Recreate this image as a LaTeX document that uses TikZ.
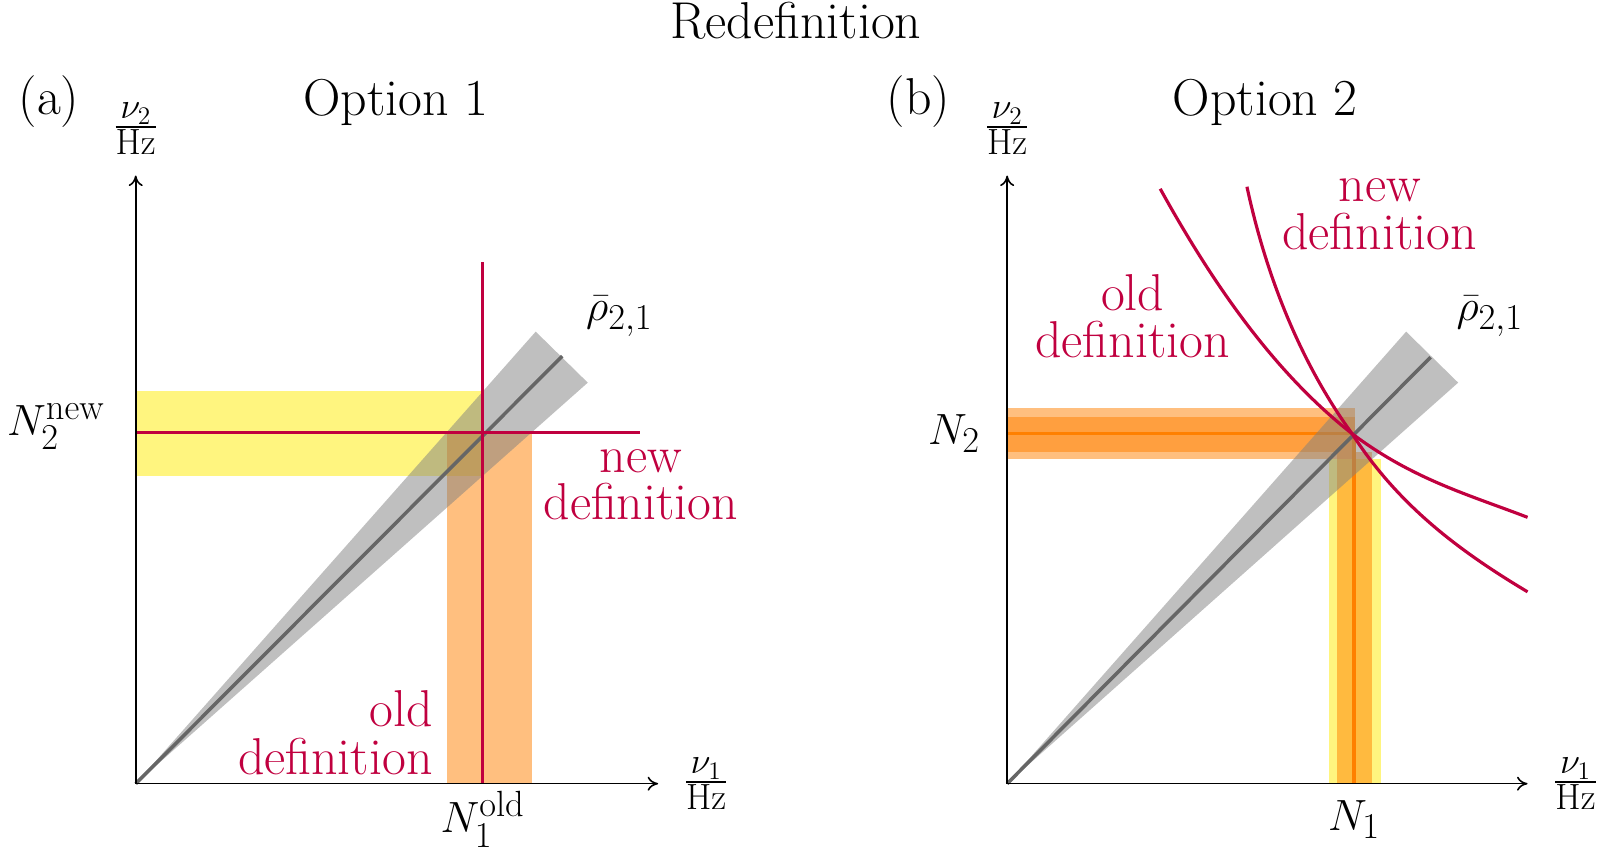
\documentclass[tikz,border=0pt]{standalone}
\usepackage{amsmath}
\usetikzlibrary{arrows.meta}
\begin{document}
\begin{tikzpicture}[x=0.0204cm,y=-0.0204cm,
  every node/.style={font=\fontsize{29.5}{35}\selectfont},
  ax/.style={line width=0.9pt,-{To[length=6pt,width=8pt]}},
  wedge/.style={fill=gray,opacity=0.5},
  cl/.style={draw=gray!80!black,line width=2pt},
  yel/.style={fill={rgb,255:red,255;green,235;blue,0},opacity=0.5},
  ora/.style={fill={rgb,255:red,255;green,128;blue,0},opacity=0.5}]
\definecolor{crim}{RGB}{192,0,63}
\useasboundingbox (0,0) rectangle (1568,841);
\node (title) at (780,20) {Redefinition};
% ---------- panel a
\node (la) at (48,100) {(a)};
\node (ta) at (388,100) {Option 1};
\coordinate (oa) at (133,768);
\coordinate (ya) at (133,172);
\coordinate (xa) at (645,768);
\fill[yel] (133,383) rectangle (473,466);
\fill[ora] (438,425) rectangle (521,768);
\fill[wedge] (oa) -- (525,325) -- (576,375) -- cycle;
\draw[cl] (oa) -- (551,349);
\draw[crim,line width=1.8pt] (473,257) -- (473,768);
\draw[crim,line width=1.8pt] (133,424) -- (627,424);
\draw[ax] (oa) -- (ya);
\draw[ax] (oa) -- (xa);
\node (fa2) at (133,126) {$\frac{\nu_2}{\mathrm{Hz}}$};
\node (fa1) at (692,768) {$\frac{\nu_1}{\mathrm{Hz}}$};
\node (n2a) at (55,418) {$N_2^{\mathrm{new}}$};
\node (n1a) at (473,803) {$N_1^{\mathrm{old}}$};
\node (rha) at (607,310) {$\bar\rho_{2,1}$};
\node[text=crim,align=center] (nda) at (628,475) {new\\[-8pt]definition};
\node[text=crim,align=right,anchor=east] (oda) at (430,718) {old\\[-8pt]definition};
% ---------- panel b
\node (lb) at (900,100) {(b)};
\node (tb) at (1240,100) {Option 2};
\coordinate (ob) at (987,768);
\coordinate (yb) at (987,172);
\coordinate (xb) at (1497,768);
\fill[ora] (987,400) rectangle (1328,450);
\fill[ora] (987,409) rectangle (1328,443);
\fill[yel] (1302,450) rectangle (1353,768);
\fill[ora] (1310,443) rectangle (1345,768);
\draw[draw={rgb,255:red,255;green,128;blue,0},line width=2pt] (987,425) -- (1327,425) -- (1327,768);
\fill[wedge] (ob) -- (1378,325) -- (1429,375) -- cycle;
\draw[cl] (ob) -- (1402,350);
\coordinate (X) at (1325,425);
\draw[crim,line width=1.8pt] (1137,185) .. controls (1195,290) and (1255,370) .. (X) .. controls (1385,470) and (1440,485) .. (1497,507);
\draw[crim,line width=1.8pt] (1222,183) .. controls (1245,290) and (1285,370) .. (X) .. controls (1370,495) and (1430,540) .. (1497,580);
\draw[ax] (ob) -- (yb);
\draw[ax] (ob) -- (xb);
\node (fb2) at (987,126) {$\frac{\nu_2}{\mathrm{Hz}}$};
\node (fb1) at (1544,768) {$\frac{\nu_1}{\mathrm{Hz}}$};
\node (n2b) at (935,425) {$N_2$};
\node (n1b) at (1327,803) {$N_1$};
\node (rhb) at (1460,310) {$\bar\rho_{2,1}$};
\node[text=crim,align=center] (ndb) at (1352,210) {new\\[-8pt]definition};
\node[text=crim,align=center] (odb) at (1110,310) {old\\[-8pt]definition};
\end{tikzpicture}
\end{document}
